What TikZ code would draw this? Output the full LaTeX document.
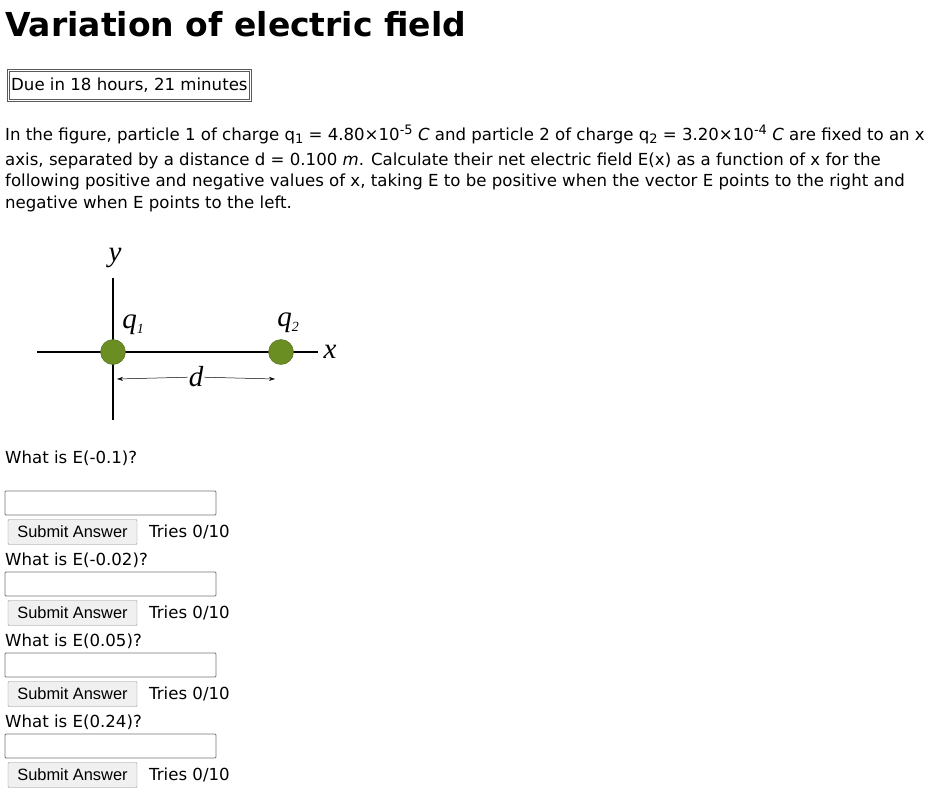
\documentclass[tikz,border=0pt]{standalone}
\usepackage{fontspec}
\setmainfont{DejaVu Sans}
\newfontfamily\btnfont{Liberation Sans}
\newfontfamily\figfont{Liberation Serif}
\usetikzlibrary{arrows.meta}
\definecolor{ball}{RGB}{107,142,35}
\newcommand{\mysup}[1]{\raisebox{6pt}{\fontsize{13}{13}\selectfont #1}}
\newcommand{\mysub}[1]{\raisebox{-3pt}{\fontsize{13}{13}\selectfont #1}}
\begin{document}
\begin{tikzpicture}[x=1pt,y=-1pt,
  body/.style={anchor=west,inner sep=0pt,font=\fontsize{16.6}{18}\selectfont},
  inbox/.style={draw=gray!90!black,line width=0.8pt,rounded corners=1pt},
  btn/.style={draw=gray!90,fill=gray!12,rounded corners=1pt,minimum width=129pt,minimum height=25pt,inner sep=0pt,font=\btnfont\fontsize{16.4}{18}\selectfont},
  lab/.style={font=\figfont\itshape\fontsize{29}{29}\selectfont,inner sep=0pt},
  ax/.style={line width=1.4pt}]
\useasboundingbox (0,0) rectangle (950,793);
\node[anchor=west,inner sep=0pt,font=\bfseries\fontsize{33}{36}\selectfont] (title) at (5,24) {Variation of electric field};
\draw[gray!70!black] (7,69) rectangle (251,101);
\draw[gray!70!black] (9,71) rectangle (249,99);
\node[body] (due) at (11,85) {Due in 18 hours, 21 minutes};
\node[body] (p1) at (5,134) {In the figure, particle 1 of charge q\mysub{1} = 4.80×10\mysup{-5} \textit{C} and particle 2 of charge q\mysub{2} = 3.20×10\mysup{-4} \textit{C} are fixed to an x};
\node[body] (p2) at (5,161) {axis, separated by a distance d = 0.100 \textit{m}. Calculate their net electric field E(x) as a function of x for the};
\node[body] (p3) at (5,182) {following positive and negative values of x, taking E to be positive when the vector E points to the right and};
\node[body] (p4) at (5,204) {negative when E points to the left.};
% figure
\coordinate (ytop) at (113,278); \coordinate (ybot) at (113,420);
\coordinate (xl) at (37,352); \coordinate (xr) at (318,352);
\draw[ax] (ytop) -- (ybot);
\draw[ax] (xl) -- (xr);
\node[circle,fill=ball,draw=ball!70!black,minimum size=25pt,inner sep=0pt] (q1) at (113,352) {};
\node[circle,fill=ball,draw=ball!70!black,minimum size=25pt,inner sep=0pt] (q2) at (281,352) {};
\node[lab] (ly) at (115,258) {y};
\node[lab] (lx) at (330,352) {x};
\node[lab] (l1) at (133,325) {q\raisebox{-5pt}{\fontsize{14}{14}\selectfont 1}};
\node[lab] (l2) at (288,323) {q\raisebox{-5pt}{\fontsize{14}{14}\selectfont 2}};
\coordinate (da) at (117,379); \coordinate (db) at (275,379);
\node[lab,fill=white,inner sep=1pt] (ld) at (196,377) {d};
\draw[-{Stealth[length=6pt,width=4pt]},line width=0.5pt] (ld) -- (da);
\draw[-{Stealth[length=6pt,width=4pt]},line width=0.5pt] (ld) -- (db);
% questions
\foreach \q/\t/\i/\b [count=\k] in {458/{What is E(-0.1)?}/491/532, 560/{What is E(-0.02)?}/572/613, 641/{What is E(0.05)?}/653/694, 722/{What is E(0.24)?}/734/775}{
  \node[body] (q\k) at (5,\q) {\t};
  \draw[inbox] (5,\i) rectangle (216,\i+24);
  \node[btn] (b\k) at (72.5,\b) {Submit Answer};
  \node[body] (t\k) at (149,\b) {Tries 0/10};
}
\end{tikzpicture}
\end{document}
